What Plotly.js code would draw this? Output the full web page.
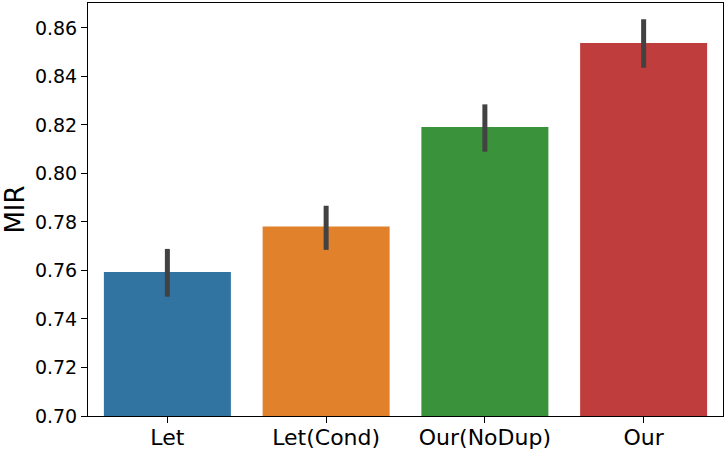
<!DOCTYPE html>
<html>
<head>
<meta charset="utf-8">
<script src="https://cdn.plot.ly/plotly-3.0.1.min.js"></script>
<style>
  body { margin: 0; padding: 0; background: #fff; }
  #chart { width: 727px; height: 453px; }
</style>
</head>
<body>
<div id="chart"></div>
<script>
// Data
var methods = ["Let", "Let(Cond)", "Our(NoDup)", "Our"];
var mir_mean = [0.7594, 0.7781, 0.8192, 0.8538];
var ci_high = [0.7689, 0.7867, 0.8285, 0.8636];
var ci_low = [0.7492, 0.7685, 0.8090, 0.8436];
var bar_colors = ["#3274a1", "#e1812c", "#3a923a", "#c03d3e"];

// error bars are not symmetric, so split into plus / minus
var err_plus = mir_mean.map(function (m, i) { return ci_high[i] - m; });
var err_minus = mir_mean.map(function (m, i) { return m - ci_low[i]; });

var data = [
  {
    type: "bar",
    x: methods,
    y: mir_mean,
    base: 0,
    width: 0.8,
    marker: { color: bar_colors, line: { width: 0 } },
    error_y: {
      type: "data",
      symmetric: false,
      array: err_plus,
      arrayminus: err_minus,
      color: "#424242",
      thickness: 5,
      width: 0
    },
    hoverinfo: "x+y"
  }
];

var axisFont = "DejaVu Sans, sans-serif";

var layout = {
  width: 727,
  height: 453,
  margin: { l: 88, r: 4, t: 3, b: 37, pad: 0 },
  paper_bgcolor: "#ffffff",
  plot_bgcolor: "#ffffff",
  showlegend: false,
  bargap: 0.2,
  xaxis: {
    type: "category",
    range: [-0.5, 3.5],
    showgrid: false,
    zeroline: false,
    showline: true,
    mirror: true,
    linecolor: "#000000",
    linewidth: 1,
    ticks: "outside",
    ticklen: 6,
    tickwidth: 1,
    tickcolor: "#000000",
    ticklabelstandoff: -4,
    tickfont: { family: axisFont, size: 22, color: "#000000" }
  },
  yaxis: {
    range: [0.70, 0.8703],
    dtick: 0.02,
    tick0: 0.70,
    tickformat: ".2f",
    showgrid: false,
    zeroline: false,
    showline: true,
    mirror: true,
    linecolor: "#000000",
    linewidth: 1,
    ticks: "outside",
    ticklen: 6,
    tickwidth: 1,
    tickcolor: "#000000",
    tickfont: { family: axisFont, size: 19, color: "#000000" },
    title: {
      text: "MIR",
      font: { family: axisFont, size: 26, color: "#000000" },
      standoff: 3
    }
  }
};

Plotly.newPlot("chart", data, layout, { displayModeBar: false, staticPlot: true });
</script>
</body>
</html>
